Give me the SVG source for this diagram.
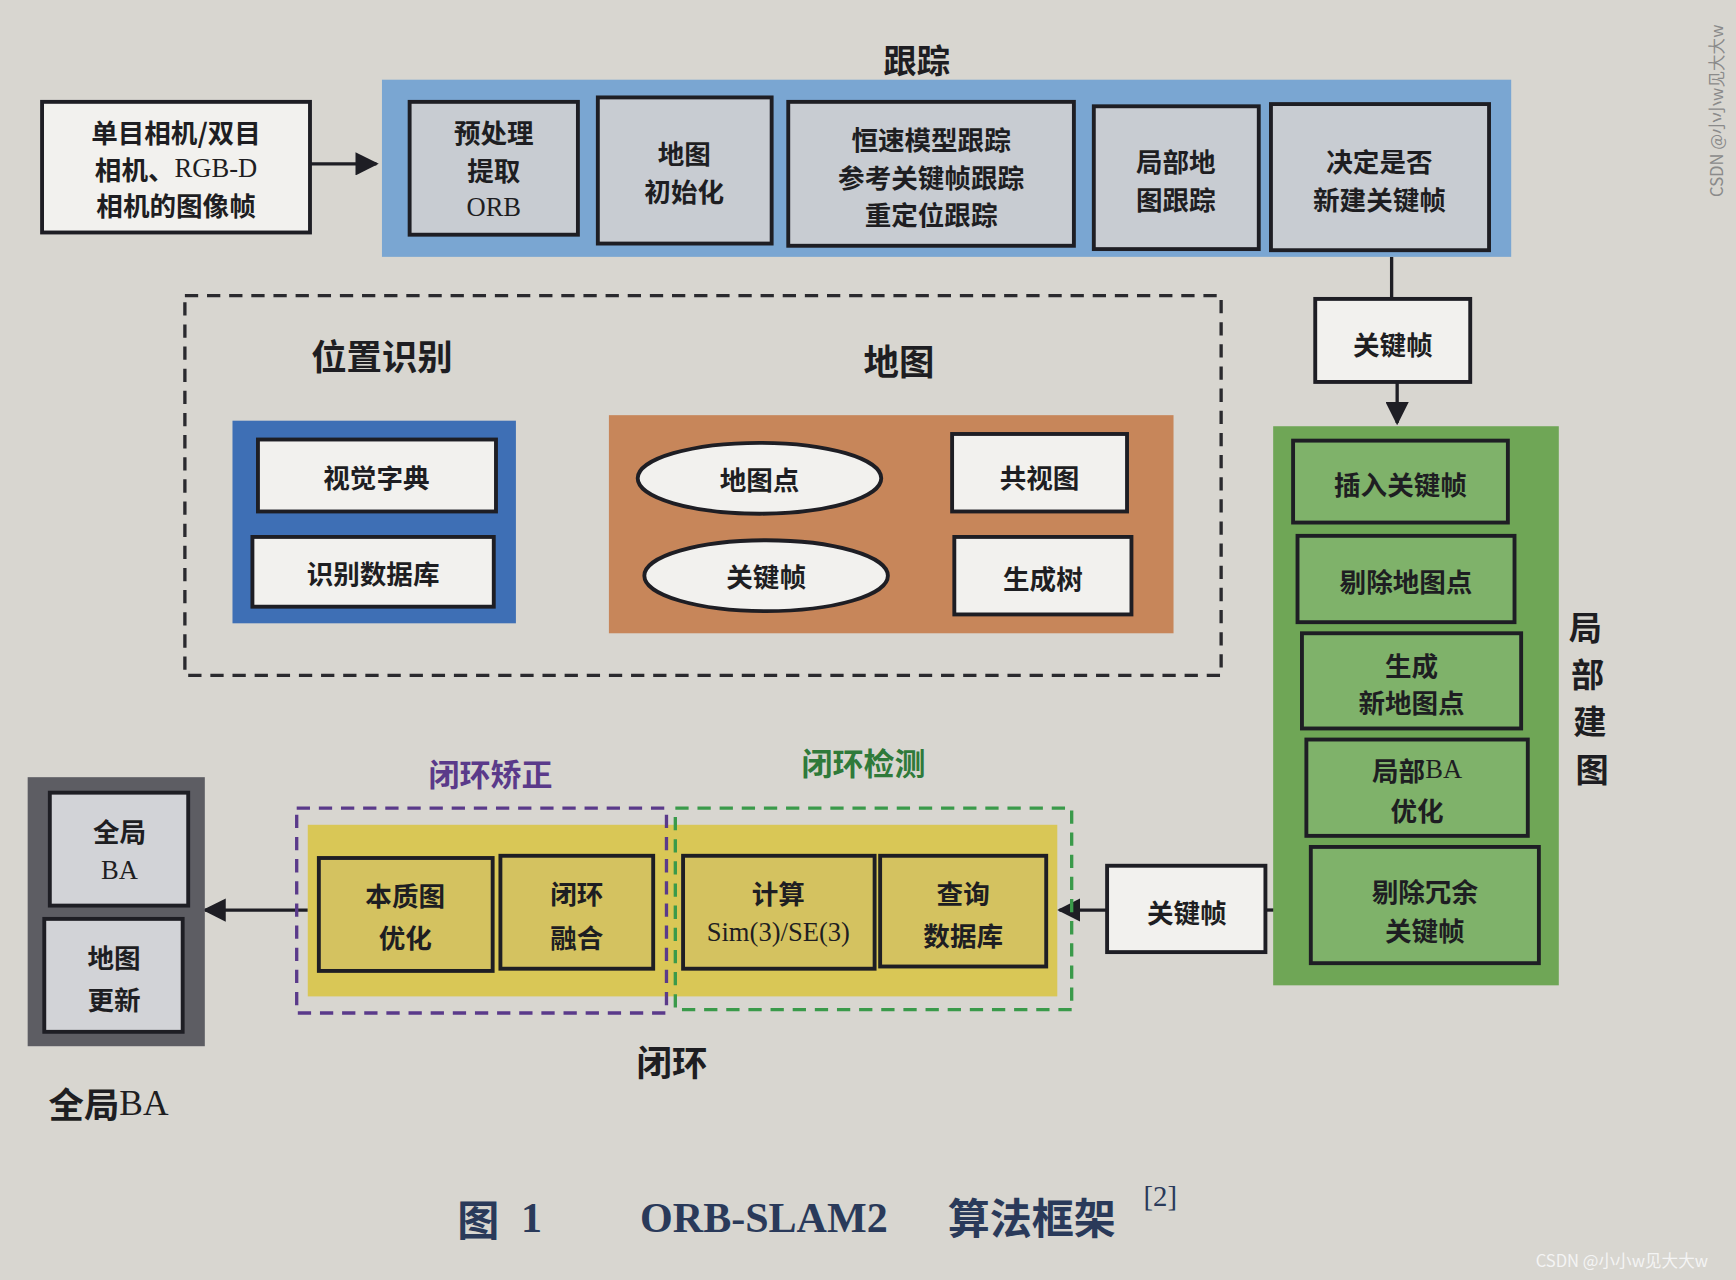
<svg xmlns="http://www.w3.org/2000/svg" width="1736" height="1280" viewBox="0 0 1736 1280">
<defs>
<style>
text{font-family:"Noto Sans CJK SC","Liberation Sans",sans-serif;fill:#1e1e22;text-anchor:middle;dominant-baseline:central;font-weight:bold}
.t{font-size:24px}
.ser{font-family:"Liberation Serif","Noto Sans CJK SC",serif;font-weight:normal}
.b{stroke:#1e1e24;stroke-width:3.5}
.gb{fill:#c8ccd2}
.wb{fill:#f2f1ee}
.dash{fill:none;stroke-width:3;stroke-dasharray:12 8}
.ln{stroke:#1e1e24;stroke-width:3;fill:none}
.cap{font-size:38px;fill:#2a3a5a}
</style>
<marker id="ar" viewBox="0 0 10 10" refX="9" refY="5" markerWidth="7" markerHeight="7" orient="auto"><path d="M0,0L10,5L0,10z" fill="#1e1e24"/></marker>
</defs>
<rect width="1736" height="1280" fill="#d8d6d0"/>
<g transform="scale(1.1071)">
<g id="connectors">
<line class="ln" x1="280" y1="148" x2="340" y2="148" marker-end="url(#ar)"/>
<line class="ln" x1="1257" y1="232" x2="1257" y2="270"/>
<line class="ln" x1="1262" y1="345" x2="1262" y2="382" marker-end="url(#ar)"/>
<line class="ln" x1="1168" y1="822" x2="1143" y2="822"/>
<line class="ln" x1="1000" y1="822" x2="957" y2="822" marker-end="url(#ar)"/>
<line class="ln" x1="278" y1="822" x2="185" y2="822" marker-end="url(#ar)"/>
</g>
<g id="input"><rect class="b wb" x="38" y="92" width="242" height="118"/>
<text class="t" x="159" y="119">单目相机/双目</text><text class="t" x="159" y="152">相机、<tspan class="ser">RGB-D</tspan></text><text class="t" x="159" y="185">相机的图像帧</text></g>
<g id="tracking">
<text x="828" y="53" style="font-size:30px">跟踪</text>
<rect x="345" y="72" width="1020" height="160" fill="#7aa6d2"/>
<rect class="b gb" x="370" y="92" width="152" height="120"/><text class="t" x="446" y="119">预处理</text><text class="t" x="446" y="153">提取</text><text class="t ser" x="446" y="187">ORB</text>
<rect class="b gb" x="540" y="88" width="157" height="132"/><text class="t" x="618" y="138">地图</text><text class="t" x="618" y="172">初始化</text>
<rect class="b gb" x="712" y="92" width="258" height="130"/><text class="t" x="841" y="125">恒速模型跟踪</text><text class="t" x="841" y="159">参考关键帧跟踪</text><text class="t" x="841" y="193">重定位跟踪</text>
<rect class="b gb" x="988" y="96" width="149" height="129"/><text class="t" x="1062" y="145">局部地</text><text class="t" x="1062" y="179">图跟踪</text>
<rect class="b gb" x="1148" y="94" width="197" height="132"/><text class="t" x="1246" y="145">决定是否</text><text class="t" x="1246" y="179">新建关键帧</text>
</g>
<g id="kf1"><rect class="b wb" x="1188" y="270" width="140" height="75"/><text class="t" x="1258" y="310">关键帧</text></g>
<g id="localmapping">
<rect x="1150" y="385" width="258" height="505" fill="#6fa656"/>
<rect class="b" fill="#7fb26a" x="1168" y="398" width="194" height="74"/><text class="t" x="1265" y="437">插入关键帧</text>
<rect class="b" fill="#7fb26a" x="1172" y="484" width="196" height="78"/><text class="t" x="1270" y="524">剔除地图点</text>
<rect class="b" fill="#7fb26a" x="1176" y="572" width="198" height="86"/><text class="t" x="1275" y="600">生成</text><text class="t" x="1275" y="634">新地图点</text>
<rect class="b" fill="#7fb26a" x="1180" y="668" width="200" height="87"/><text class="t" x="1280" y="695">局部<tspan class="ser">BA</tspan></text><text class="t" x="1280" y="731">优化</text>
<rect class="b" fill="#7fb26a" x="1184" y="765" width="206" height="105"/><text class="t" x="1287" y="804">剔除冗余</text><text class="t" x="1287" y="840">关键帧</text>
<text x="1432" y="565" style="font-size:30px">局</text><text x="1434" y="607" style="font-size:30px">部</text><text x="1436" y="650" style="font-size:30px">建</text><text x="1438" y="693" style="font-size:30px">图</text>
</g>
<g id="mapregion">
<rect class="dash" stroke="#2a2a2e" x="167" y="267" width="936" height="343"/>
<text x="345" y="320" style="font-size:32px">位置识别</text>
<text x="812" y="325" style="font-size:32px">地图</text>
</g>
<g id="placerec">
<rect x="210" y="380" width="256" height="183" fill="#3e6fb5"/>
<rect class="b wb" x="233" y="397" width="215" height="65"/><text class="t" x="340" y="430">视觉字典</text>
<rect class="b wb" x="228" y="485" width="218" height="63"/><text class="t" x="337" y="517">识别数据库</text>
</g>
<g id="map">
<rect x="550" y="375" width="510" height="197" fill="#c7865a"/>
<ellipse class="b wb" cx="686" cy="432" rx="110" ry="32"/><text class="t" x="686" y="432">地图点</text>
<ellipse class="b wb" cx="692" cy="520" rx="110" ry="32"/><text class="t" x="692" y="520">关键帧</text>
<rect class="b wb" x="860" y="392" width="158" height="70"/><text class="t" x="939" y="430">共视图</text>
<rect class="b wb" x="862" y="485" width="160" height="70"/><text class="t" x="942" y="522">生成树</text>
</g>
<g id="loop">
<text x="443" y="698" style="font-size:28px;fill:#5a3a8a">闭环矫正</text>
<text x="780" y="688" style="font-size:28px;fill:#2f7a3a">闭环检测</text>
<rect x="278" y="745" width="677" height="155" fill="#d9c756"/>
<rect class="dash" stroke="#5a3a8a" x="268" y="730" width="334" height="185"/>
<rect class="dash" stroke="#3a9a4a" x="610" y="730" width="358" height="182"/>
<rect class="b" fill="#d4c260" x="288" y="775" width="157" height="102"/><text class="t" x="366" y="808">本质图</text><text class="t" x="366" y="846">优化</text>
<rect class="b" fill="#d4c260" x="452" y="773" width="138" height="102"/><text class="t" x="521" y="806">闭环</text><text class="t" x="521" y="846">融合</text>
<rect class="b" fill="#d4c260" x="617" y="773" width="173" height="102"/><text class="t" x="703" y="806">计算</text><text class="t ser" x="703" y="842">Sim(3)/SE(3)</text>
<rect class="b" fill="#d4c260" x="795" y="773" width="150" height="100"/><text class="t" x="870" y="806">查询</text><text class="t" x="870" y="844">数据库</text>
<text x="607" y="958" style="font-size:32px">闭环</text>
</g>
<g id="kf2"><rect class="b wb" x="1000" y="782" width="143" height="78"/><text class="t" x="1072" y="823">关键帧</text></g>
<g id="globalba">
<rect x="25" y="702" width="160" height="243" fill="#5d5d63"/>
<rect class="b" fill="#d2d3d7" x="45" y="716" width="125" height="102"/><text class="t" x="108" y="750">全局</text><text class="t ser" x="108" y="786">BA</text>
<rect class="b" fill="#d2d3d7" x="40" y="830" width="125" height="102"/><text class="t" x="103" y="864">地图</text><text class="t" x="103" y="902">更新</text>
<text x="98" y="996" style="font-size:32px">全局<tspan class="ser" style="font-weight:normal">BA</tspan></text>
</g>
<g id="caption">
<text class="cap" x="432" y="1100">图</text>
<text class="cap ser" x="480" y="1100" style="font-weight:bold">1</text>
<text class="cap ser" x="690" y="1100" style="font-weight:bold">ORB-SLAM2</text>
<text class="cap" x="932" y="1098">算法框架</text>
<text class="ser" x="1048" y="1080" style="font-size:26px;fill:#2a3a5a">[2]</text>
</g>
<text x="1465" y="1138" style="font-size:15px;font-weight:normal;fill:#f4f4f4">CSDN @小小w见大大w</text>
<text transform="translate(1550,100) rotate(-90)" style="font-size:15px;font-weight:normal;fill:#8a8a8a">CSDN @小小w见大大w</text>
</g>
</svg>
